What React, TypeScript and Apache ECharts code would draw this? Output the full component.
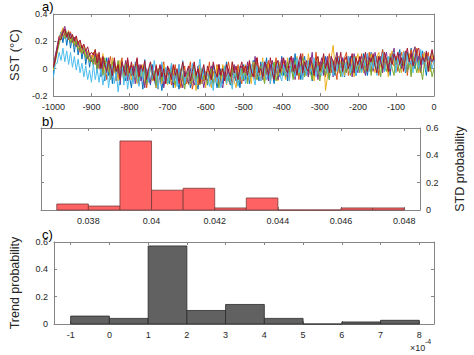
import React, { useEffect, useRef } from "react";
import * as echarts from "echarts";

// ---- Panel a: SST ensemble (hundredths of °C), one value every 5 years from -1000 to 0 ----
const YEAR_START = -1000;
const YEAR_STEP = 5;
const SST_BLUE = [
  -5, 8, 14, 22, 27, 19, 28, 17, 26, 15, 25, 12, 22, 10, 19, 7, 16, 3, 13, 1, 10,
  2, 12, -3, 9, -6, 5, -9, 8, -5, 3, -11, 6, -8, 2, -12, 5, -3, -9, 3, -6,
  -14, 0, -8, 5, -11, -3, -15, 2, -9, -5, -12, 3, -8, -14, 0, -6, -16, -3, -9, 2,
  -11, -3, -14, 0, -8, -15, -5, 3, -12, -6, -2, -14, -9, 2, -8, -15, -3, -11, 0, -6,
  -12, -2, -9, 3, -6, -14, -5, 0, -11, -3, 5, -8, -12, 2, -6, -9, 0, -14, -3, 3,
  -8, 2, -11, -3, 6, -6, 0, -9, 5, -5, -2, 8, -8, 3, -3, -11, 5, 0, -6, 9,
  -5, 3, -9, 8, 0, -6, 11, -3, 5, -8, 2, 9, -5, 0, 6, -9, 3, -2, 8, -6,
  5, -3, 9, 0, -8, 6, 2, -5, 11, -2, 3, 8, -6, 5, 0, 9, -3, 6, -5, 3,
  8, -2, 11, 3, -5, 6, 12, 0, 5, -3, 9, 2, 14, -2, 6, 3, -5, 11, 5, 0,
  8, 14, 2, 9, -3, 12, 5, 15, 6, 0, 11, -2, 8, 13, 3, -5, 9, 2, 12, 5,
];
const SST_ORANGE = [
  2, 10, 15, 24, 22, 29, 24, 26, 21, 27, 19, 22, 17, 20, 12, 16, 11, 13, 7, 11, 5,
  12, 3, 11, 0, 8, -3, 6, -8, 2, 9, -5, 3, -9, 5, -2, 8, -6, 0, 6, -8,
  3, -9, -2, 6, -12, 0, -5, 5, -14, -3, 2, -9, -6, 3, -15, -2, -8, 5, -11, -3,
  0, -12, -5, 3, -9, -2, -14, -6, 2, -11, -3, 5, -15, -8, -2, -12, 3, -6, -9, -2,
  -5, 5, -11, -2, -8, 3, -12, -6, 2, -9, -5, 5, -3, -12, 0, -8, 3, -5, -11, 2,
  -2, -9, 5, -5, 2, -8, 8, -3, -9, 3, -6, 0, 6, -11, 2, -3, 8, -8, 3, -2,
  6, -5, 2, -9, 9, 0, -3, 6, -8, 3, 11, -5, 2, -6, 8, 0, -5, 12, -3, 5,
  -2, 8, -6, 3, 11, -3, 6, 0, -8, 9, 2, -3, 8, 12, -5, 3, 6, -2, 9, 0,
  5, 11, -3, 6, 2, 12, -2, 8, 3, 9, -5, 6, 14, 0, 8, -3, 11, 5, 2, 9,
  -2, 6, 12, 3, 9, -5, 8, 14, 0, 5, 15, 6, -3, 11, 2, 8, 12, -2, 6, 9,
];
const SST_YELLOW = [
  -1, 7, 13, 21, 26, 30, 27, 23, 28, 20, 25, 18, 23, 15, 19, 12, 17, 9, 13, 6, 10,
  6, 14, 2, 9, -2, 11, -5, 5, 0, -6, 8, -3, 2, -9, 6, -2, -6, 5, -5, 2,
  -8, 3, -5, -11, 2, -6, 3, -12, -2, -8, 5, -9, -3, -14, 0, -5, -11, 3, -6, -12,
  -3, -9, 2, -14, -6, -2, -11, 5, -8, -5, -12, 0, -9, -3, -16, -6, 2, -11, -5, -14,
  0, -8, -14, -3, -9, 2, -6, -11, 3, -5, -12, -2, -8, 5, -9, -14, -3, 2, -6, -9,
  3, -6, -2, -11, 5, -3, -8, 2, -5, 8, -9, -2, 3, -6, 6, -5, 0, -9, 5, -3,
  2, -8, 8, -3, 5, -6, -2, 9, -5, 3, -8, 6, -2, 11, -3, 5, -9, 2, 8, -5,
  3, 9, -16, -6, 5, 8, 17, 2, 11, -3, 6, 0, -5, 9, 3, -2, 8, -6, 5, 11,
  0, 6, -3, 9, 5, -2, 11, 3, -3, 8, 12, 2, -2, 9, 5, -6, 8, 13, 3, -2,
  9, 5, -3, 13, 6, 2, 11, -2, 8, 16, 3, -3, 9, 5, 12, 0, 6, -2, 11, 3,
];
const SST_PURPLE = [
  1, 9, 17, 23, 24, 27, 31, 25, 22, 26, 20, 23, 16, 19, 14, 17, 11, 14, 8, 10, 6,
  5, 11, 0, 8, -5, 6, 2, -3, 8, -8, 0, 5, -6, 3, -11, 2, -2, 6, -9, 0,
  -5, 2, -11, -3, 3, -9, -5, -14, 0, -6, -11, 2, -5, -12, -2, -8, 3, -14, -5, -9,
  -6, 2, -12, -5, -9, 3, -8, -14, -2, -6, -11, 0, -5, -12, -8, 2, -9, -3, -14, -6,
  -9, -3, 2, -11, -5, -8, 3, -9, -14, -2, -6, 0, -11, -5, 3, -8, -12, -2, 2, -9,
  -5, 5, -8, 0, -3, 9, -6, -2, 3, -8, 5, -3, -9, 0, 6, -5, 2, -8, -2, 8,
  -3, 6, -6, 2, -2, 8, -8, 3, 0, 9, -5, -2, 6, -6, 3, 12, -3, 5, -8, 2,
  8, -5, 3, 9, -2, 5, -6, 6, 12, 0, -5, 8, 3, -2, 9, 5, -6, 11, 2, -3,
  6, 9, 0, -5, 11, 3, 8, -2, 12, 5, 0, 9, -3, 6, 12, 2, -2, 8, 15, 3,
  5, 11, 0, 8, 13, -2, 6, 3, 12, 16, 5, 9, -2, 8, 3, 13, 0, 9, 5, 8,
];
const SST_GREEN = [
  0, 5, 12, 18, 23, 25, 22, 27, 24, 19, 23, 17, 20, 14, 16, 11, 14, 8, 10, 5, 8,
  3, 9, -2, 6, 2, -5, 8, -2, 3, -8, 5, 0, -5, 6, -3, 2, -9, 3, -2, -6,
  0, -8, 3, -3, -9, 2, -6, 0, -11, -5, 3, -8, -2, -12, -3, 2, -9, -5, 0, -11,
  -8, 0, -6, -12, -3, -9, 0, -8, -15, -5, -2, -11, -6, 3, -9, -5, -12, 0, -8, -3,
  -11, -6, 0, -12, -3, -8, -14, -2, -6, 2, -9, -5, -11, 0, -6, -3, -12, -5, 0, -8,
  -3, -11, 2, -6, -2, 5, -8, -3, 2, -5, -11, 3, -2, -6, 0, 5, -9, -3, 3, -5,
  0, -6, 5, -3, 2, -8, 6, -2, -5, 3, 8, -6, 0, 5, -3, -8, 6, -2, 3, -9,
  0, 5, -5, 2, -8, 6, 3, -3, 0, 8, -6, 5, 2, -3, 6, -5, 0, 9, -2, 5,
  -3, 5, 8, -2, 2, 6, -5, 9, 3, 0, 5, -6, 8, 3, -2, 6, 9, 0, -5, 8,
  3, -3, 8, 2, 11, -2, 5, -6, 9, 3, -3, 6, 0, -8, 5, 11, -2, 3, -6, 0,
];
const SST_CYAN = [
  -6, 3, 4, 12, 6, 15, 5, 13, 3, 12, 1, 9, -1, 7, -3, 4, -6, 2, -8, -1, -10,
  3, -8, 0, -10, 1, -12, -4, 4, -14, -3, 2, -11, -2, -17, -5, 5, -12, -1, -15, -4,
  1, -11, 5, -7, -13, 2, -8, 7, -5, -10, 4, -7, 6, -4, -15, 0, 5, -9, 1, -11,
  -5, 4, -10, -1, -13, 3, -7, 6, -11, -3, 1, -9, 4, -6, -12, -1, 7, -8, 2, -5,
  -3, -13, -8, -16, -2, -10, -5, -14, -6, 2, -11, -3, -8, -15, -1, -6, -13, 2, -8, -3,
  -11, -1, -8, 3, -6, -12, 2, -5, -9, 5, -3, -8, 0, -11, 3, -6, -2, 6, -5, -9,
  3, -5, 0, -9, 5, -2, -6, 8, -3, 2, -8, 3, -5, 6, -2, 0, 8, -6, 2, -3,
  -5, 2, 6, -3, 0, 9, -5, 3, -2, 8, 2, -6, 5, 0, 9, -3, 3, 8, -5, 2,
  5, -3, 8, 2, 11, -2, 5, 0, 9, -5, 6, 3, 11, -2, 5, 9, 0, 6, 12, -3,
  8, 2, 5, 12, -2, 9, 3, 6, -3, 11, 5, 0, 14, 3, 8, -2, 9, 5, 0, 6,
];
const SST_DARKRED = [
  1, 6, 14, 22, 21, 26, 29, 23, 27, 22, 25, 20, 24, 18, 21, 15, 18, 13, 16, 10, 12,
  10, 14, 4, 12, 0, 9, 3, -2, 6, 2, -5, 8, -2, 3, -8, 5, 0, -5, 8, -3,
  5, -5, 2, 8, -6, 3, -2, 6, -8, 0, 5, -3, -9, 2, -5, 3, -6, 0, -11, 2,
  -2, -8, 3, -5, 0, -11, -2, 5, -6, -3, 2, -9, -2, 5, -5, 0, -11, -3, 3, -8,
  2, -3, -8, 5, -2, -6, 3, -5, 0, -9, 3, -2, -6, 5, -3, 2, -8, 0, 5, -3,
  2, -5, 6, -2, -6, 3, 8, -3, 0, -6, 5, 2, -5, 8, -2, -8, 3, 6, -3, 2,
  8, 0, -3, 5, 9, -2, 3, -5, 6, 11, -3, 5, 0, -2, 8, 3, -5, 6, 9, -2,
  3, 11, 0, 6, -3, 9, 5, -2, 8, 3, 12, -2, 6, 9, 0, 5, 11, -3, 8, 3,
  9, 0, 6, 12, -2, 8, 5, 11, 2, -3, 9, 5, 0, 12, 6, -2, 8, 3, 11, 6,
  12, 3, 8, -2, 9, 15, 5, 11, 2, 8, 13, 15, 3, 9, 5, 12, -2, 8, 14, 6,
];
const SST_SERIES = [SST_BLUE, SST_ORANGE, SST_YELLOW, SST_PURPLE, SST_GREEN, SST_CYAN, SST_DARKRED];
const SST_COLORS = ["#0072BD", "#D95319", "#EDB120", "#7E2F8E", "#77AC30", "#4DBEEE", "#A2142F"];
const SST_X_TICKS = [-1000, -900, -800, -700, -600, -500, -400, -300, -200, -100, 0];
const SST_Y_TICKS = [-0.2, 0, 0.2, 0.4];

// ---- Panel b: STD histogram ----
const STD_EDGES = [0.037, 0.038, 0.039, 0.04, 0.041, 0.042, 0.043, 0.044, 0.045, 0.046, 0.047, 0.048];
const STD_PROB = [0.044, 0.029, 0.505, 0.145, 0.159, 0.015, 0.088, 0, 0, 0.015, 0.015];
const STD_X_TICKS = [0.038, 0.04, 0.042, 0.044, 0.046, 0.048];
const PROB_Y_TICKS = [0, 0.2, 0.4, 0.6];

// ---- Panel c: Trend histogram (units of 1e-4) ----
const TREND_EDGES = [-1, 0, 1, 2, 3, 4, 5, 6, 7, 8];
const TREND_PROB = [0.058, 0.041, 0.571, 0.099, 0.143, 0.041, 0, 0.015, 0.027];
const TREND_X_TICKS = [-1, 0, 1, 2, 3, 4, 5, 6, 7, 8];

const FONT = "Liberation Sans, Arial, Helvetica, sans-serif";
const AXIS_COLOR = "#858585";
const TEXT_COLOR = "#262626";

function fmt(v: number) {
  return String(parseFloat(Number(v).toFixed(4)));
}

function axisBase(show: boolean, ticks: number[], extra: any = {}) {
  return {
    type: "value",
    splitLine: { show: false },
    axisLine: { show: true, onZero: false, lineStyle: { color: AXIS_COLOR, width: 1 } },
    axisTick: { show: true, inside: true, length: 3, customValues: ticks, lineStyle: { color: AXIS_COLOR } },
    axisLabel: {
      show,
      customValues: ticks,
      fontSize: 9,
      color: TEXT_COLOR,
      fontFamily: FONT,
      margin: 6,
      formatter: (v: number) => fmt(v),
    },
    ...extra,
  };
}

function histRender(fill: string, stroke: string) {
  return (params: any, api: any) => {
    const x0 = api.value(0);
    const x1 = api.value(1);
    const h = api.value(2);
    const p0 = api.coord([x0, h]);
    const p1 = api.coord([x1, 0]);
    return {
      type: "rect",
      shape: { x: p0[0], y: p0[1], width: p1[0] - p0[0], height: p1[1] - p0[1] },
      style: { fill, stroke, lineWidth: 0.8 },
    };
  };
}

export default function App() {
  const ref = useRef<HTMLDivElement>(null);
  useEffect(() => {
    if (!ref.current) return;
    const chart = echarts.init(ref.current, null, { renderer: "svg" });

    const lineSeries = SST_SERIES.map((vals, k) => ({
      type: "line",
      xAxisIndex: 0,
      yAxisIndex: 0,
      showSymbol: false,
      symbol: "none",
      clip: true,
      lineStyle: { color: SST_COLORS[k], width: 1 },
      data: vals.map((v, i) => [YEAR_START + YEAR_STEP * i, v / 100]),
    }));

    const stdData = STD_PROB.map((p, i) => [STD_EDGES[i], STD_EDGES[i + 1], p]);
    const trendData = TREND_PROB.map((p, i) => [TREND_EDGES[i], TREND_EDGES[i + 1], p]);

    const grids = [
      { left: 41, right: 40, top: 14, height: 82 },
      { left: 41, right: 40, top: 128, height: 82 },
      { left: 41, right: 40, top: 242, height: 82 },
    ];

    const nameStyle = { fontSize: 12.5, color: TEXT_COLOR, fontFamily: FONT };

    chart.setOption({
      animation: false,
      backgroundColor: "#ffffff",
      grid: grids,
      xAxis: [
        axisBase(true, SST_X_TICKS, { gridIndex: 0, min: -1000, max: 0, position: "bottom" }),
        axisBase(false, SST_X_TICKS, { gridIndex: 0, min: -1000, max: 0, position: "top" }),
        axisBase(true, STD_X_TICKS, { gridIndex: 1, min: 0.0365, max: 0.0485, position: "bottom" }),
        axisBase(false, STD_X_TICKS, { gridIndex: 1, min: 0.0365, max: 0.0485, position: "top" }),
        axisBase(true, TREND_X_TICKS, { gridIndex: 2, min: -1.43, max: 8.38, position: "bottom" }),
        axisBase(false, TREND_X_TICKS, { gridIndex: 2, min: -1.43, max: 8.38, position: "top" }),
      ],
      yAxis: [
        axisBase(true, SST_Y_TICKS, {
          gridIndex: 0, min: -0.2, max: 0.4, position: "left",
          name: "SST (°C)", nameLocation: "middle", nameGap: 31, nameTextStyle: { ...nameStyle, fontSize: 13 },
        }),
        axisBase(false, SST_Y_TICKS, { gridIndex: 0, min: -0.2, max: 0.4, position: "right" }),
        axisBase(true, PROB_Y_TICKS, {
          gridIndex: 1, min: 0, max: 0.6, position: "right",
          name: "STD probability", nameLocation: "middle", nameGap: 33, nameTextStyle: nameStyle,
        }),
        axisBase(false, PROB_Y_TICKS, { gridIndex: 1, min: 0, max: 0.6, position: "left" }),
        axisBase(true, PROB_Y_TICKS, {
          gridIndex: 2, min: 0, max: 0.6, position: "left",
          name: "Trend probability", nameLocation: "middle", nameGap: 33, nameTextStyle: nameStyle,
        }),
        axisBase(false, PROB_Y_TICKS, { gridIndex: 2, min: 0, max: 0.6, position: "right" }),
      ],
      series: [
        ...lineSeries,
        {
          type: "custom",
          xAxisIndex: 2,
          yAxisIndex: 2,
          renderItem: histRender("#FF6262", "#7a3a3a"),
          encode: { x: [0, 1], y: 2 },
          data: stdData,
        },
        {
          type: "custom",
          xAxisIndex: 4,
          yAxisIndex: 4,
          renderItem: histRender("#616161", "#2a2a2a"),
          encode: { x: [0, 1], y: 2 },
          data: trendData,
        },
      ],
      graphic: [
        { type: "text", left: 42, top: 0, style: { text: "a)", fontSize: 13, fill: "#000", fontFamily: FONT } },
        { type: "text", left: 42, top: 115, style: { text: "b)", fontSize: 13, fill: "#000", fontFamily: FONT } },
        { type: "text", left: 42, top: 228, style: { text: "c)", fontSize: 13, fill: "#000", fontFamily: FONT } },
        { type: "text", left: 410, top: 343, style: { text: "×10", fontSize: 9, fill: TEXT_COLOR, fontFamily: FONT } },
        { type: "text", left: 425, top: 338, style: { text: "-4", fontSize: 7, fill: TEXT_COLOR, fontFamily: FONT } },
      ],
    });
    return () => chart.dispose();
  }, []);
  return <div ref={ref} style={{ width: 474, height: 355, position: "absolute", left: 0, top: 0 }} />;
}
